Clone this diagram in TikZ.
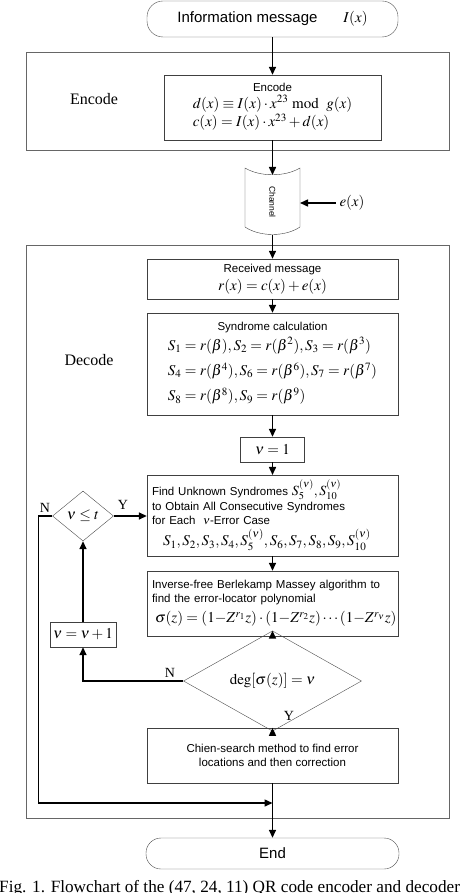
\documentclass[tikz,border=0pt]{standalone}
\usepackage{mathptmx}
\usepackage{fontspec}
\setmainfont{Liberation Serif}
\newfontfamily\arialfont{Liberation Sans}
\usetikzlibrary{shapes.geometric,arrows.meta}

\newcommand{\sm}{\arialfont\fontsize{11.5}{14}\selectfont}
\newcommand{\mth}{\fontsize{15}{18}\selectfont}

\tikzset{
  termbox/.style={draw=black!70, rounded corners=16pt, minimum width=251, minimum height=36, font=\arialfont\fontsize{15}{18}\selectfont},
  outerbox/.style={draw=black!60, minimum width=423, inner sep=0},
  procbox/.style={draw=black!75, minimum width=251, inner sep=5pt, font=\mth},
  decbox/.style={draw=black!70, diamond, inner sep=0, font=\mth},
  arr/.style={line width=1.5pt, -{Triangle[length=8pt,width=7pt]}},
  yn/.style={font=\fontsize{14}{16}\selectfont},
}

\begin{document}
\begin{tikzpicture}[x=1pt,y=-1pt]
\useasboundingbox (0,0) rectangle (474,893);

% encoder part
\node[termbox] (start) at (272.5,19) {Information message\hspace{26pt}$I(x)$};
\node[outerbox, minimum height=98] (encframe) at (237.5,101) {};
\node[font=\fontsize{16}{18}\selectfont] (enclabel) at (94,99) {Encode};
\node[procbox, minimum width=217, minimum height=65, align=center] (enc) at (272.5,107.5)
  {{\sm Encode}\\[-1pt]
   $\begin{array}[t]{@{}l@{}}
     d(x)\equiv I(x)\cdot x^{23}\ \mathrm{mod}\ \ g(x)\\
     c(x)=I(x)\cdot x^{23}+d(x)
   \end{array}$};

% channel
\draw[black!75] (245,168) .. controls (260,177) and (285,177) .. (300,168) -- (300,227)
  .. controls (285,237) and (260,237) .. (245,227) -- cycle;
\coordinate (chtop) at (272.5,175);
\coordinate (chbot) at (272.5,235);
\coordinate (chright) at (300,203);
\node[rotate=-90, font=\arialfont\fontsize{8.5}{10}\selectfont] (chan) at (272.5,202) {Channel};
\node[font=\mth] (ex) at (352,203) {$e(x)$};

% decoder part
\node[outerbox, minimum height=573] (decframe) at (237.5,531.5) {};
\node[font=\fontsize{16}{18}\selectfont] (declabel) at (89,360) {Decode};
\node[procbox, minimum height=40, align=center] (recv) at (272.5,279)
  {{\sm Received message}\\ $r(x)=c(x)+e(x)$};
\node[procbox, minimum height=102, align=center] (synd) at (272.5,364)
  {{\sm Syndrome calculation}\\[2pt]
   $\begin{array}[t]{@{}l@{}}
     S_1=r(\beta),S_2=r(\beta^2),S_3=r(\beta^3)\\[7pt]
     S_4=r(\beta^4),S_6=r(\beta^6),S_7=r(\beta^7)\\[7pt]
     S_8=r(\beta^8),S_9=r(\beta^9)
   \end{array}$};
\node[procbox, minimum width=64, minimum height=25] (v1) at (272.5,449.5) {$\nu=1$};
\node[procbox, minimum height=73, text width=241, align=left, font=\sm] (find) at (272.5,515.5)
  {Find Unknown Syndromes {\fontsize{14}{16}\selectfont$S_5^{(\nu)}, S_{10}^{(\nu)}$}\\[1pt]
   to Obtain All Consecutive Syndromes\\
   for Each \ $\nu$-Error Case\\[4pt]
   \hspace*{11pt}{\mth$S_1,S_2,S_3,S_4,S_5^{(\nu)},S_6,S_7,S_8,S_9,S_{10}^{(\nu)}$}};
\node[decbox, minimum width=61, minimum height=50] (cmp) at (83,516) {$\nu\le t$};
\node[procbox, minimum width=66, minimum height=25, inner sep=1pt] (inc) at (83,634.5) {$\nu=\nu+1$};
\node[procbox, minimum height=65, text width=241, align=left, font=\sm] (bm) at (272.5,603.5)
  {Inverse-free Berlekamp Massey algorithm to\\
   find the error-locator polynomial\\[6pt]
   \hspace*{3pt}\mbox{\mth$\sigma(z)=(1{-}Z^{r_1}z)\cdot(1{-}Z^{r_2}z)\cdots(1{-}Z^{r_\nu}z)$}};
\node[decbox, minimum width=178, minimum height=54] (deg) at (272.5,681) {$\deg[\sigma(z)]=\nu$};
\node[procbox, minimum height=55, align=center, font=\sm] (chien) at (272.5,755.5)
  {Chien-search method to find error\\ locations and then correction};
\node[termbox, minimum width=253, minimum height=31, rounded corners=15pt] (end) at (272.5,853.5) {End};
\coordinate (join) at (272.5,803);

% yes / no labels
\node[yn] (ncmp) at (45,508) {N};
\node[yn] (ycmp) at (123,505) {Y};
\node[yn] (ndeg) at (170,673) {N};
\node[yn] (ydeg) at (289,716) {Y};

% arrows
\draw[arr] (start) -- (enc);
\draw[arr] (enc) -- (chtop);
\draw[arr] (ex.west) -- (chright);
\draw[arr] (chbot) -- (recv);
\draw[arr] (recv) -- (synd);
\draw[arr] (synd) -- (v1);
\draw[arr] (v1) -- (find);
\draw[arr] (find) -- (bm);
\draw[arr] (bm) -- (deg);
\draw[arr] (deg) -- (chien);
\draw[arr] (chien) -- (end);
\draw[arr] (cmp.east) -- (cmp.east -| find.west);
\draw[arr] (inc) -- (cmp);
\draw[arr] (deg.west) -| (inc.south);
\draw[arr] (cmp.west) -- ++(-14,0) |- (join);

\node[anchor=base west, inner sep=0, font=\fontsize{17.2}{20}\selectfont] (caption) at (-1,892)
  {Fig. 1. Flowchart of the (47, 24, 11) QR code encoder and decoder};
\end{tikzpicture}
\end{document}
